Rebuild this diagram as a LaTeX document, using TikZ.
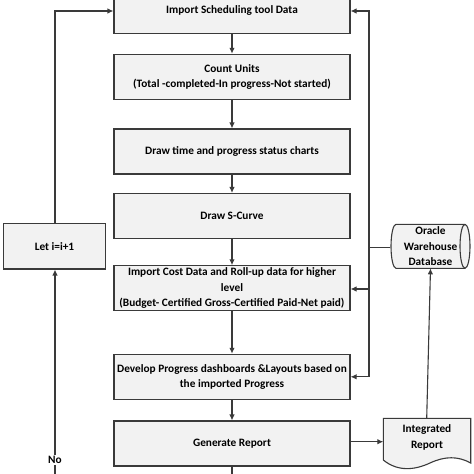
\documentclass[tikz,border=0pt]{standalone}
\usepackage{fontspec}
\setmainfont{Carlito}
\usetikzlibrary{arrows.meta}
\definecolor{boxfill}{HTML}{F2F2F2}
\definecolor{edge}{HTML}{3A3A3A}
\begin{document}
\begin{tikzpicture}[x=1pt,y=-1pt,
  every node/.style={font=\fontsize{11.3}{15.4}\selectfont\bfseries, text=black, align=center},
  procbox/.style={draw=edge, line width=1.1pt, fill=boxfill, minimum width=236pt, minimum height=45pt, inner sep=0pt},
  conn/.style={draw=edge, line width=1.1pt},
  arr/.style={conn, -{Latex[length=6pt,width=5.5pt]}}]
\useasboundingbox (0,0) rectangle (474,474);
\node[procbox] (b1) at (232,10.8) {Import Scheduling tool Data};
\node[procbox] (b2) at (232,76.8) {Count Units\\(Total -completed-In progress-Not started)};
\node[procbox] (b3) at (232,151.5) {Draw time and progress status charts};
\node[procbox] (b4) at (232,216) {Draw S-Curve};
\node[procbox] (b5) at (232,288.3) {Import Cost Data and Roll-up data for higher\\level\\(Budget- Certified Gross-Certified Paid-Net paid)};
\node[procbox] (b6) at (232,376.8) {Develop Progress dashboards \&Layouts based on\\the imported Progress};
\node[procbox] (b7) at (232,443.5) {Generate Report};
\node[procbox, minimum width=102pt, minimum height=45.5pt] (let) at (54.5,246.2) {Let i=i+1};
% Oracle warehouse (horizontal cylinder)
\draw[conn, fill=boxfill] (465,224.3) -- (396,224.3) arc[start angle=90, end angle=270, x radius=5, y radius=-22] -- (465,268.3) arc[start angle=-90, end angle=90, x radius=5, y radius=-22];
\draw[conn] (465,224.3) arc[start angle=90, end angle=270, x radius=5, y radius=-22];
\node[minimum width=80pt, minimum height=44pt, inner sep=0pt] (ora) at (430.5,246.3) {Oracle\\Warehouse\\Database};
% Integrated report (document)
\draw[conn, fill=boxfill] (383.3,418.3) -- (470.7,418.3) -- (470.7,463) .. controls (458,456) and (445,456) .. (430,463) .. controls (415,470) and (398,472) .. (383.3,460) -- cycle;
\node[minimum width=87pt, minimum height=40pt, inner sep=0pt] (irep) at (427,437.5) {Integrated\\Report};
\coordinate (ireptop) at (426.7,418.3);
\coordinate (irepleft) at (383.3,441.7);
% main flow
\draw[arr] (b1) -- (b2);
\draw[arr] (b2) -- (b3);
\draw[arr] (b3) -- (b4);
\draw[arr] (b4) -- (b5);
\draw[arr] (b5) -- (b6);
\draw[arr] (b6) -- (b7);
\coordinate (bottomout) at (232,474);
\draw[conn] (b7) -- (bottomout);
% right feed
\coordinate (rtop) at (369,11);
\coordinate (rbot) at (369,376.8);
\coordinate (rora) at (369,247.3);
\draw[arr] (rora) -- (rtop) -- (b1.east |- rtop);
\draw[arr] (rora) -- (rbot) -- (b6.east |- rbot);
\draw[arr] (369,289) -- (b5.east |- 0,289);
\draw[conn] (rora) -- (ora.west |- rora);
% report
\draw[arr] (b7.east |- irepleft) -- (irepleft);
\draw[arr] (ireptop) -- (ora.south |- 0,268.3);
% left loop
\coordinate (ltop) at (55,11);
\draw[arr] (let.north -| ltop) -- (ltop) -- (b1.west |- ltop);
\node[inner sep=1pt] (no) at (55,460) {No};
\coordinate (lbot) at (55,474);
\draw[conn] (lbot) -- (no.south);
\draw[arr] (no.north) -- (let.south -| no.north);
\end{tikzpicture}
\end{document}
